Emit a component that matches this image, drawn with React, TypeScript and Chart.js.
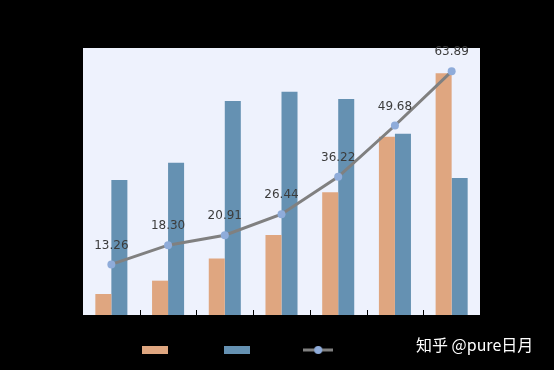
import React, { useEffect, useRef } from "react";
import { Chart, registerables } from "chart.js";

Chart.register(...registerables);

const categories = ["1", "2", "3", "4", "5", "6", "7"];
const seriesA = [5.5, 9.0, 14.8, 21.0, 32.2, 46.7, 63.4];
const seriesB = [35.4, 39.9, 56.1, 58.5, 56.6, 47.5, 35.9];
const lineValues = [13.26, 18.3, 20.91, 26.44, 36.22, 49.68, 63.89];
const legendLabels = ["系列 1", "系列 2", "系列 3（折线）"];

const ORANGE = "rgb(223,166,128)";
const BLUE = "rgb(101,145,178)";
const LINE = "rgb(128,128,128)";
const POINT = "rgb(143,172,218)";
const PLOT_BG = "rgb(238,242,253)";

function makeRectIcon(color: string) {
  const c = document.createElement("canvas");
  c.width = 26;
  c.height = 8;
  const ctx = c.getContext("2d")!;
  ctx.fillStyle = color;
  ctx.fillRect(0, 0, 26, 8);
  return c;
}

function makeLineIcon() {
  const c = document.createElement("canvas");
  c.width = 30;
  c.height = 10;
  const ctx = c.getContext("2d")!;
  ctx.strokeStyle = LINE;
  ctx.lineWidth = 3;
  ctx.beginPath();
  ctx.moveTo(0, 5);
  ctx.lineTo(30, 5);
  ctx.stroke();
  ctx.fillStyle = POINT;
  ctx.beginPath();
  ctx.arc(15, 5, 4, 0, Math.PI * 2);
  ctx.fill();
  return c;
}

const plotBackground = {
  id: "plotBackground",
  beforeDraw(chart: any) {
    const { ctx, chartArea } = chart;
    ctx.save();
    ctx.fillStyle = PLOT_BG;
    ctx.fillRect(chartArea.left, chartArea.top, chartArea.right - chartArea.left, chartArea.bottom - chartArea.top);
    ctx.restore();
  },
};

const innerTicks = {
  id: "innerTicks",
  afterDatasetsDraw(chart: any) {
    const { ctx, chartArea } = chart;
    const x = chart.scales.x;
    ctx.save();
    ctx.strokeStyle = "#000";
    ctx.lineWidth = 1;
    for (let i = 0; i < categories.length - 1; i++) {
      const px = Math.round((x.getPixelForValue(i) + x.getPixelForValue(i + 1)) / 2) + 0.5;
      ctx.beginPath();
      ctx.moveTo(px, chartArea.bottom);
      ctx.lineTo(px, chartArea.bottom - 5);
      ctx.stroke();
    }
    ctx.restore();
  },
};

const pointLabels = {
  id: "pointLabels",
  afterDatasetsDraw(chart: any) {
    const { ctx } = chart;
    const meta = chart.getDatasetMeta(2);
    ctx.save();
    ctx.fillStyle = "#3c3c3c";
    ctx.font = '12px "DejaVu Sans"';
    ctx.textAlign = "center";
    ctx.textBaseline = "middle";
    meta.data.forEach((pt: any, i: number) => {
      ctx.fillText(lineValues[i].toFixed(2), pt.x, pt.y - 19);
    });
    ctx.restore();
  },
};

const watermark = {
  id: "watermark",
  afterDraw(chart: any) {
    const { ctx } = chart;
    ctx.save();
    ctx.fillStyle = "#ffffff";
    ctx.font = '16px "Noto Sans CJK SC"';
    ctx.textAlign = "left";
    ctx.textBaseline = "alphabetic";
    ctx.fillText("知乎 @pure日月", 416, 351);
    ctx.restore();
  },
};

export default function App() {
  const ref = useRef<HTMLCanvasElement | null>(null);

  useEffect(() => {
    document.body.style.margin = "0";
    document.body.style.background = "#000";
    const icons = [makeRectIcon(ORANGE), makeRectIcon(BLUE), makeLineIcon()];
    const chart = new Chart(ref.current!, {
      type: "bar",
      data: {
        labels: categories,
        datasets: [
          {
            type: "bar",
            label: legendLabels[0],
            data: seriesA,
            backgroundColor: ORANGE,
            yAxisID: "y",
            order: 1,
            categoryPercentage: 0.565,
            barPercentage: 1,
          },
          {
            type: "bar",
            label: legendLabels[1],
            data: seriesB,
            backgroundColor: BLUE,
            yAxisID: "y",
            order: 1,
            categoryPercentage: 0.565,
            barPercentage: 1,
          },
          {
            type: "line",
            label: legendLabels[2],
            data: lineValues,
            borderColor: LINE,
            borderWidth: 3,
            pointRadius: 4,
            pointBackgroundColor: POINT,
            pointBorderWidth: 0,
            yAxisID: "y1",
            order: 0,
            tension: 0,
          } as any,
        ],
      },
      options: {
        animation: false,
        responsive: false,
        layout: { padding: { left: 83, right: 74, top: 48, bottom: 4 } },
        scales: {
          x: {
            display: true,
            ticks: { display: false },
            grid: { drawOnChartArea: false, drawTicks: true, tickLength: 19, color: "rgba(0,0,0,0)" },
            border: { display: false },
          },
          y: { display: false, min: 0, max: 70 },
          y1: { display: false, min: 0, max: 70 },
        },
        plugins: {
          tooltip: { enabled: false },
          legend: {
            display: true,
            position: "bottom",
            labels: {
              usePointStyle: true,
              pointStyleWidth: 30,
              padding: 10,
              color: "#000",
              font: { size: 12, family: '"DejaVu Sans"' },
              sort: (a: any, b: any) => a.datasetIndex - b.datasetIndex,
              generateLabels: (ch: any) => {
                const items = Chart.defaults.plugins.legend.labels.generateLabels(ch);
                return items.map((it: any) => ({
                  ...it,
                  pointStyle: icons[it.datasetIndex],
                  fontColor: "#000",
                }));
              },
            },
          },
        },
      },
      plugins: [plotBackground, innerTicks, pointLabels, watermark],
    });
    return () => chart.destroy();
  }, []);

  return <canvas ref={ref} width={554} height={370} style={{ display: "block", width: 554, height: 370 }} />;
}
